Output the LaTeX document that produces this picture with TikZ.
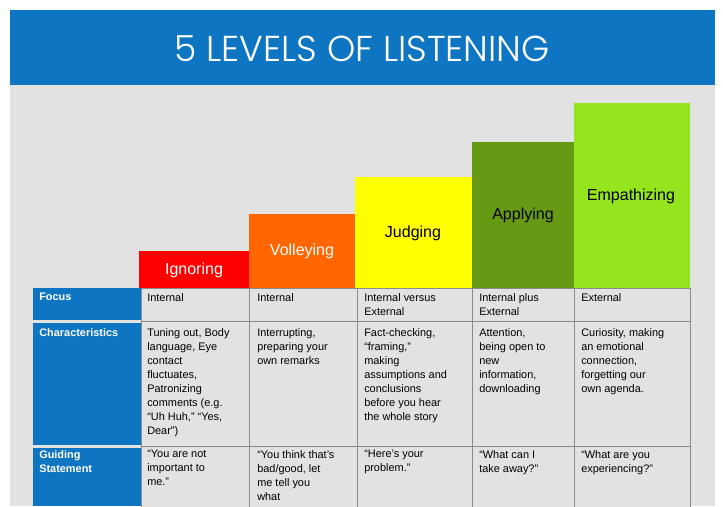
\documentclass[tikz,border=0pt]{standalone}
\usepackage{fontspec}
\setmainfont{Liberation Sans}
\newfontfamily\titlefont{Poppins Light}
\definecolor{tblue}{HTML}{0E75C2}
\definecolor{bg}{HTML}{E2E2E2}
\definecolor{grid}{HTML}{8A8A8A}
\definecolor{cred}{HTML}{FF0000}
\definecolor{corange}{HTML}{FF6600}
\definecolor{cyellow}{HTML}{FFFF00}
\definecolor{cgreen}{HTML}{669A14}
\definecolor{clime}{HTML}{94E41E}
\begin{document}
\begin{tikzpicture}[x=0.75pt,y=-0.75pt,
  bar/.style={draw=none,inner sep=0pt,anchor=north west,font=\fontsize{12}{14}\selectfont},
  cell/.style={draw=grid,line width=0.6pt,fill=bg,inner sep=0pt,anchor=north west},
  txt/.style={anchor=north west,align=left,font=\fontsize{8.2}{10.5}\selectfont,inner sep=0pt},
  head/.style={anchor=north west,align=left,font=\bfseries\fontsize{8.2}{10.5}\selectfont,text=white,inner sep=0pt}]
\useasboundingbox (0,0) rectangle (723,506);
\fill[white] (0,0) rectangle (723,506);
\fill[bg] (10,85) rectangle (715,506);
\fill[tblue] (10,10) rectangle (715,85);
\node[text=white,font=\titlefont\fontsize{27}{30}\selectfont] (title) at (362,49) {5 LEVELS OF LISTENING};
% bars
\fill[cred] (139,251) rectangle (249,288);
\fill[corange] (249,214) rectangle (355,288);
\fill[cyellow] (355,177) rectangle (472,288);
\fill[cgreen] (472,142) rectangle (574,288);
\fill[clime] (574,103) rectangle (690,288);
\node[font=\fontsize{12}{14}\selectfont,text=white] (b1) at (194,270) {Ignoring};
\node[font=\fontsize{12}{14}\selectfont,text=white] (b2) at (302,251) {Volleying};
\node[font=\fontsize{12}{14}\selectfont] (b3) at (413,233) {Judging};
\node[font=\fontsize{12}{14}\selectfont] (b4) at (523,215) {Applying};
\node[font=\fontsize{12}{14}\selectfont] (b5) at (631,196) {Empathizing};
% left header column
\fill[tblue] (33,288) rectangle (141,320);
\fill[tblue] (33,323) rectangle (141,445);
\fill[tblue] (33,448) rectangle (141,506);
% grid
\foreach \xa/\xb in {141/249,249/357,357/472,472/574,574/690}{
  \draw[grid,fill=bg,line width=0.6pt] (\xa,288) rectangle (\xb,321);
  \draw[grid,fill=bg,line width=0.6pt] (\xa,321) rectangle (\xb,446);
  \draw[grid,fill=bg,line width=0.6pt] (\xa,446) rectangle (\xb,510);
}
\node[head] (h1) at (39,293) {Focus};
\node[head] (h2) at (39,328) {Characteristics};
\node[head] (h3) at (39,450) {Guiding\\Statement};
% focus
\node[txt] (f1) at (147,293) {Internal};
\node[txt] (f2) at (257,293) {Internal};
\node[txt] (f3) at (364,293) {Internal versus\\External};
\node[txt] (f4) at (479,293) {Internal plus\\External};
\node[txt] (f5) at (581,293) {External};
% characteristics
\node[txt] (c1) at (147,328) {Tuning out, Body\\language, Eye\\contact\\fluctuates,\\Patronizing\\comments (e.g.\\“Uh Huh,” “Yes,\\Dear”)};
\node[txt] (c2) at (257,328) {Interrupting,\\preparing your\\own remarks};
\node[txt] (c3) at (364,328) {Fact-checking,\\“framing,”\\making\\assumptions and\\conclusions\\before you hear\\the whole story};
\node[txt] (c4) at (479,328) {Attention,\\being open to\\new\\information,\\downloading};
\node[txt] (c5) at (581,328) {Curiosity, making\\an emotional\\connection,\\forgetting our\\own agenda.};
% guiding
\node[txt] (g1) at (147,450) {“You are not\\important to\\me.”};
\node[txt] (g2) at (257,450) {“You think that’s\\bad/good, let\\me tell you\\what};
\node[txt] (g3) at (364,450) {“Here’s your\\problem.”};
\node[txt] (g4) at (479,450) {“What can I\\take away?”};
\node[txt] (g5) at (581,450) {“What are you\\experiencing?”};
\end{tikzpicture}
\end{document}
